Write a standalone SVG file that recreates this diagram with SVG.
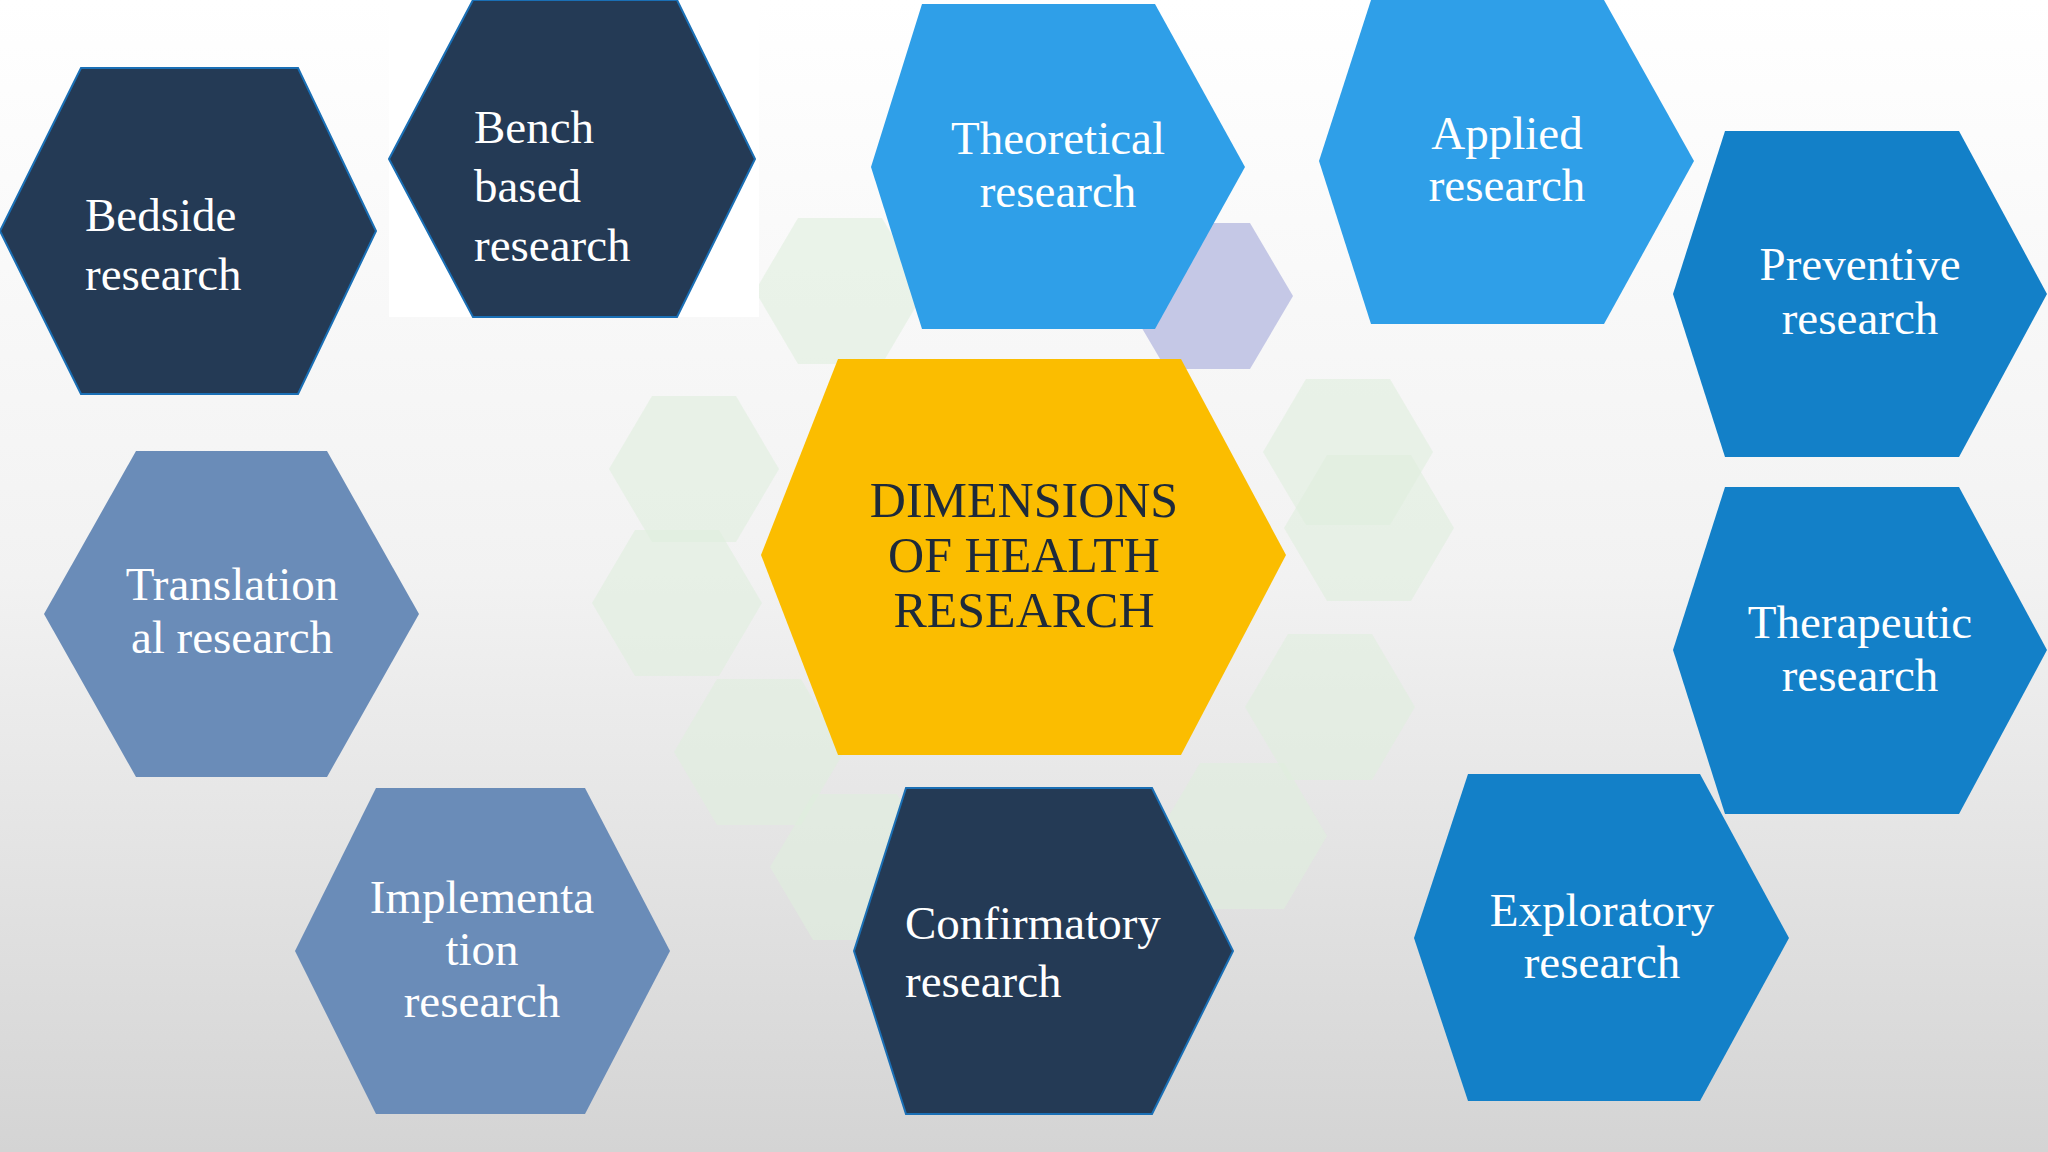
<svg xmlns="http://www.w3.org/2000/svg" width="2048" height="1152" viewBox="0 0 2048 1152">
<defs>
<linearGradient id="bg" x1="0" y1="0" x2="0" y2="1"><stop offset="0" stop-color="#ffffff"/><stop offset="0.5" stop-color="#f2f2f2"/><stop offset="1" stop-color="#d4d4d4"/></linearGradient>
<polygon id="fh" points="-85,0 -42,-73 42,-73 85,0 42,73 -42,73"/>
</defs>
<style>
.t{font-family:"Liberation Serif",serif;font-size:47px;fill:#fff}
.c{text-anchor:middle}
.navy{fill:#243a55;stroke:#1a6fb5;stroke-width:2}
.lb{fill:#2f9fe8}
.mb{fill:#1380c8}
.sb{fill:#6a8cb8}
.faint{fill:#dfeedd;opacity:0.6}
</style>
<rect width="2048" height="1152" fill="url(#bg)"/>
<g id="decor">
<use href="#fh" x="840" y="291" class="faint"/>
<use href="#fh" x="694" y="469" class="faint"/>
<use href="#fh" x="677" y="603" class="faint"/>
<use href="#fh" x="759" y="752" class="faint"/>
<use href="#fh" x="855" y="867" class="faint"/>
<use href="#fh" x="1242" y="836" class="faint"/>
<use href="#fh" x="1330" y="707" class="faint"/>
<use href="#fh" x="1369" y="528" class="faint"/>
<use href="#fh" x="1348" y="452" class="faint"/>
<use href="#fh" x="1208" y="296" fill="#c5c8e6"/>
<rect x="389" y="0" width="370" height="317" fill="#fff"/>
</g>
<g id="connectors"/>
<g id="bedside"><polygon class="navy" points="0,231 81,68 298,68 376,231 298,394 81,394"/>
<text class="t" x="85" y="231">Bedside</text><text class="t" x="85" y="290">research</text></g>
<g id="bench"><polygon class="navy" points="389,159 473,0 677,0 755,159 677,317 473,317"/>
<text class="t" x="474" y="143">Bench</text><text class="t" x="474" y="202">based</text><text class="t" x="474" y="261">research</text></g>
<g id="theoretical"><polygon class="lb" points="871,167 922,4 1155,4 1245,167 1155,329 922,329"/>
<text class="t c" x="1058" y="154">Theoretical</text><text class="t c" x="1058" y="207">research</text></g>
<g id="applied"><polygon class="lb" points="1319,161 1371,0 1604,0 1694,161 1604,324 1371,324"/>
<text class="t c" x="1507" y="149">Applied</text><text class="t c" x="1507" y="201">research</text></g>
<g id="preventive"><polygon class="mb" points="1673,294 1725,131 1959,131 2047,294 1959,457 1725,457"/>
<text class="t c" x="1860" y="280">Preventive</text><text class="t c" x="1860" y="334">research</text></g>
<g id="therapeutic"><polygon class="mb" points="1673,650 1725,487 1959,487 2047,650 1959,814 1725,814"/>
<text class="t c" x="1860" y="638">Therapeutic</text><text class="t c" x="1860" y="691">research</text></g>
<g id="exploratory"><polygon class="mb" points="1414,938 1468,774 1700,774 1789,938 1700,1101 1468,1101"/>
<text class="t c" x="1602" y="926">Exploratory</text><text class="t c" x="1602" y="978">research</text></g>
<g id="confirmatory"><polygon class="navy" points="854,951 906,788 1152,788 1233,951 1152,1114 906,1114"/>
<text class="t" x="905" y="939">Confirmatory</text><text class="t" x="905" y="997">research</text></g>
<g id="implementation"><polygon class="sb" points="295,951 376,788 585,788 670,951 585,1114 376,1114"/>
<text class="t c" x="482" y="913">Implementa</text><text class="t c" x="482" y="965">tion</text><text class="t c" x="482" y="1017">research</text></g>
<g id="translational"><polygon class="sb" points="44,614 136,451 327,451 419,614 327,777 136,777"/>
<text class="t c" x="232" y="600">Translation</text><text class="t c" x="232" y="653">al research</text></g>
<g id="center"><polygon fill="#fbbd00" points="761,555 838,359 1181,359 1286,555 1181,755 838,755"/>
<g style="font-family:'Liberation Serif',serif;font-size:50px;fill:#1e2a3a" text-anchor="middle">
<text x="1024" y="517">DIMENSIONS</text><text x="1024" y="572">OF HEALTH</text><text x="1024" y="627">RESEARCH</text></g></g>
</svg>
